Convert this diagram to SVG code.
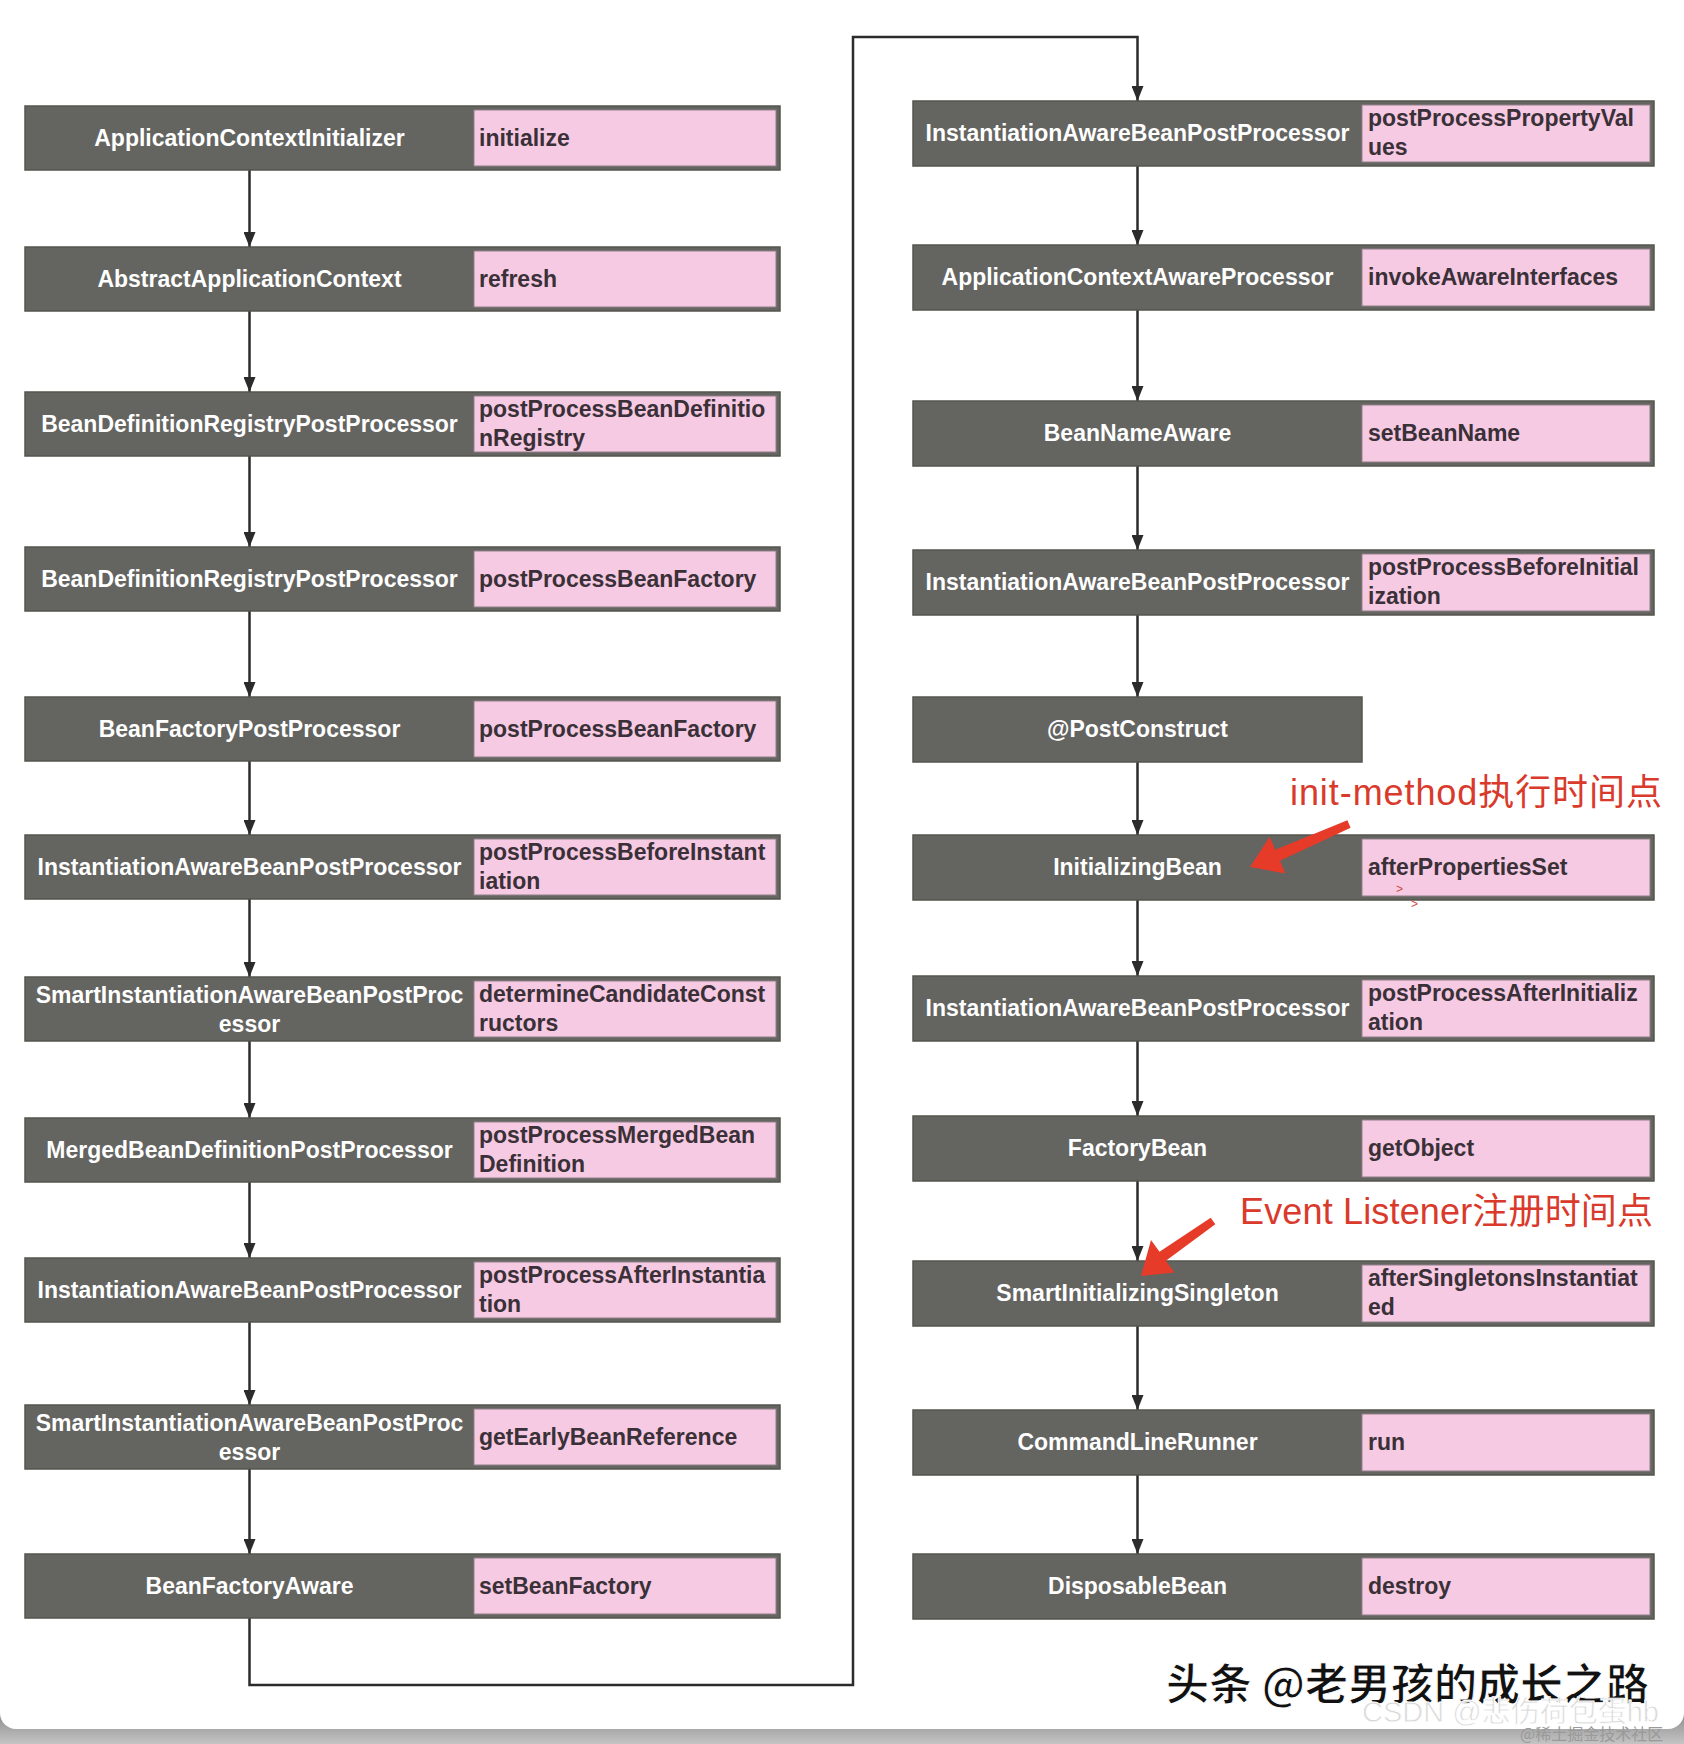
<svg xmlns="http://www.w3.org/2000/svg" width="1684" height="1744" viewBox="0 0 1684 1744">
<defs>
<style>
.box{fill:#646461;stroke:#55554f;stroke-width:1.5}
.pink{fill:#f6cae2;stroke:#8f8088;stroke-width:1}
.lbl{font-family:"Liberation Sans",Arial,sans-serif;font-weight:bold;font-size:23px;fill:#ffffff;text-anchor:middle}
.mth{font-family:"Liberation Sans",Arial,sans-serif;font-weight:bold;font-size:23px;fill:#3a3038}
.conn{stroke:#2b2b2b;stroke-width:2.5;fill:none}
.note{font-family:"Liberation Sans","Noto Sans CJK SC",sans-serif;font-size:36px;fill:#d93a2b}
.red{fill:#e63b28}
</style>
<marker id="ah" markerUnits="userSpaceOnUse" markerWidth="15" markerHeight="12" viewBox="0 0 15 12" refX="15" refY="6" orient="auto">
<path d="M0,0 L15,6 L0,12 z" fill="#2b2b2b"/>
</marker>
<linearGradient id="band" x1="0" y1="0" x2="0" y2="1">
<stop offset="0" stop-color="#8a8a8a"/>
<stop offset="1" stop-color="#c4c4c4"/>
</linearGradient>
</defs>
<rect x="0" y="0" width="1684" height="1744" fill="#ffffff"/>
<rect x="0" y="1712" width="1684" height="32" fill="url(#band)"/>
<rect x="0" y="-30" width="1684" height="1759" rx="16" fill="#ffffff"/>

<g id="connectors">
<path class="conn" d="M249.5,170 V247" marker-end="url(#ah)"/>
<path class="conn" d="M249.5,311 V392" marker-end="url(#ah)"/>
<path class="conn" d="M249.5,456 V547" marker-end="url(#ah)"/>
<path class="conn" d="M249.5,611 V697" marker-end="url(#ah)"/>
<path class="conn" d="M249.5,761 V835" marker-end="url(#ah)"/>
<path class="conn" d="M249.5,899 V977" marker-end="url(#ah)"/>
<path class="conn" d="M249.5,1041 V1118" marker-end="url(#ah)"/>
<path class="conn" d="M249.5,1182 V1258" marker-end="url(#ah)"/>
<path class="conn" d="M249.5,1322 V1405" marker-end="url(#ah)"/>
<path class="conn" d="M249.5,1469 V1554" marker-end="url(#ah)"/>
<path class="conn" d="M249.5,1618 V1685 H853 V37 H1137.5 V101" marker-end="url(#ah)"/>
<path class="conn" d="M1137.5,166 V245" marker-end="url(#ah)"/>
<path class="conn" d="M1137.5,310 V401" marker-end="url(#ah)"/>
<path class="conn" d="M1137.5,466 V550" marker-end="url(#ah)"/>
<path class="conn" d="M1137.5,615 V697" marker-end="url(#ah)"/>
<path class="conn" d="M1137.5,762 V835" marker-end="url(#ah)"/>
<path class="conn" d="M1137.5,900 V976" marker-end="url(#ah)"/>
<path class="conn" d="M1137.5,1041 V1116" marker-end="url(#ah)"/>
<path class="conn" d="M1137.5,1181 V1261" marker-end="url(#ah)"/>
<path class="conn" d="M1137.5,1326 V1410" marker-end="url(#ah)"/>
<path class="conn" d="M1137.5,1475 V1554" marker-end="url(#ah)"/>
</g>

<g id="L1"><rect class="box" x="25" y="106" width="755" height="64"/><rect class="pink" x="474" y="110" width="302" height="56"/>
<text class="lbl" x="249.5" y="146">ApplicationContextInitializer</text><text class="mth" x="479" y="146">initialize</text></g>
<g id="L2"><rect class="box" x="25" y="247" width="755" height="64"/><rect class="pink" x="474" y="251" width="302" height="56"/>
<text class="lbl" x="249.5" y="287">AbstractApplicationContext</text><text class="mth" x="479" y="287">refresh</text></g>
<g id="L3"><rect class="box" x="25" y="392" width="755" height="64"/><rect class="pink" x="474" y="396" width="302" height="56"/>
<text class="lbl" x="249.5" y="432">BeanDefinitionRegistryPostProcessor</text><text class="mth" x="479" y="417">postProcessBeanDefinitio</text><text class="mth" x="479" y="446">nRegistry</text></g>
<g id="L4"><rect class="box" x="25" y="547" width="755" height="64"/><rect class="pink" x="474" y="551" width="302" height="56"/>
<text class="lbl" x="249.5" y="587">BeanDefinitionRegistryPostProcessor</text><text class="mth" x="479" y="587">postProcessBeanFactory</text></g>
<g id="L5"><rect class="box" x="25" y="697" width="755" height="64"/><rect class="pink" x="474" y="701" width="302" height="56"/>
<text class="lbl" x="249.5" y="737">BeanFactoryPostProcessor</text><text class="mth" x="479" y="737">postProcessBeanFactory</text></g>
<g id="L6"><rect class="box" x="25" y="835" width="755" height="64"/><rect class="pink" x="474" y="839" width="302" height="56"/>
<text class="lbl" x="249.5" y="875">InstantiationAwareBeanPostProcessor</text><text class="mth" x="479" y="860">postProcessBeforeInstant</text><text class="mth" x="479" y="889">iation</text></g>
<g id="L7"><rect class="box" x="25" y="977" width="755" height="64"/><rect class="pink" x="474" y="981" width="302" height="56"/>
<text class="lbl" x="249.5" y="1003">SmartInstantiationAwareBeanPostProc</text><text class="lbl" x="249.5" y="1032">essor</text><text class="mth" x="479" y="1002">determineCandidateConst</text><text class="mth" x="479" y="1031">ructors</text></g>
<g id="L8"><rect class="box" x="25" y="1118" width="755" height="64"/><rect class="pink" x="474" y="1122" width="302" height="56"/>
<text class="lbl" x="249.5" y="1158">MergedBeanDefinitionPostProcessor</text><text class="mth" x="479" y="1143">postProcessMergedBean</text><text class="mth" x="479" y="1172">Definition</text></g>
<g id="L9"><rect class="box" x="25" y="1258" width="755" height="64"/><rect class="pink" x="474" y="1262" width="302" height="56"/>
<text class="lbl" x="249.5" y="1298">InstantiationAwareBeanPostProcessor</text><text class="mth" x="479" y="1283">postProcessAfterInstantia</text><text class="mth" x="479" y="1312">tion</text></g>
<g id="L10"><rect class="box" x="25" y="1405" width="755" height="64"/><rect class="pink" x="474" y="1409" width="302" height="56"/>
<text class="lbl" x="249.5" y="1431">SmartInstantiationAwareBeanPostProc</text><text class="lbl" x="249.5" y="1460">essor</text><text class="mth" x="479" y="1445">getEarlyBeanReference</text></g>
<g id="L11"><rect class="box" x="25" y="1554" width="755" height="64"/><rect class="pink" x="474" y="1558" width="302" height="56"/>
<text class="lbl" x="249.5" y="1594">BeanFactoryAware</text><text class="mth" x="479" y="1594">setBeanFactory</text></g>

<g id="R1"><rect class="box" x="913" y="101" width="741" height="65"/><rect class="pink" x="1362" y="105" width="288" height="57"/>
<text class="lbl" x="1137.5" y="141">InstantiationAwareBeanPostProcessor</text><text class="mth" x="1368" y="126">postProcessPropertyVal</text><text class="mth" x="1368" y="155">ues</text></g>
<g id="R2"><rect class="box" x="913" y="245" width="741" height="65"/><rect class="pink" x="1362" y="249" width="288" height="57"/>
<text class="lbl" x="1137.5" y="285">ApplicationContextAwareProcessor</text><text class="mth" x="1368" y="285">invokeAwareInterfaces</text></g>
<g id="R3"><rect class="box" x="913" y="401" width="741" height="65"/><rect class="pink" x="1362" y="405" width="288" height="57"/>
<text class="lbl" x="1137.5" y="441">BeanNameAware</text><text class="mth" x="1368" y="441">setBeanName</text></g>
<g id="R4"><rect class="box" x="913" y="550" width="741" height="65"/><rect class="pink" x="1362" y="554" width="288" height="57"/>
<text class="lbl" x="1137.5" y="590">InstantiationAwareBeanPostProcessor</text><text class="mth" x="1368" y="575">postProcessBeforeInitial</text><text class="mth" x="1368" y="604">ization</text></g>
<g id="R5"><rect class="box" x="913" y="697" width="449" height="65"/>
<text class="lbl" x="1137.5" y="737">@PostConstruct</text></g>
<g id="R6"><rect class="box" x="913" y="835" width="741" height="65"/><rect class="pink" x="1362" y="839" width="288" height="57"/>
<text class="lbl" x="1137.5" y="875">InitializingBean</text><text class="mth" x="1368" y="875">afterPropertiesSet</text></g>
<g id="R7"><rect class="box" x="913" y="976" width="741" height="65"/><rect class="pink" x="1362" y="980" width="288" height="57"/>
<text class="lbl" x="1137.5" y="1016">InstantiationAwareBeanPostProcessor</text><text class="mth" x="1368" y="1001">postProcessAfterInitializ</text><text class="mth" x="1368" y="1030">ation</text></g>
<g id="R8"><rect class="box" x="913" y="1116" width="741" height="65"/><rect class="pink" x="1362" y="1120" width="288" height="57"/>
<text class="lbl" x="1137.5" y="1156">FactoryBean</text><text class="mth" x="1368" y="1156">getObject</text></g>
<g id="R9"><rect class="box" x="913" y="1261" width="741" height="65"/><rect class="pink" x="1362" y="1265" width="288" height="57"/>
<text class="lbl" x="1137.5" y="1301">SmartInitializingSingleton</text><text class="mth" x="1368" y="1286">afterSingletonsInstantiat</text><text class="mth" x="1368" y="1315">ed</text></g>
<g id="R10"><rect class="box" x="913" y="1410" width="741" height="65"/><rect class="pink" x="1362" y="1414" width="288" height="57"/>
<text class="lbl" x="1137.5" y="1450">CommandLineRunner</text><text class="mth" x="1368" y="1450">run</text></g>
<g id="R11"><rect class="box" x="913" y="1554" width="741" height="65"/><rect class="pink" x="1362" y="1558" width="288" height="57"/>
<text class="lbl" x="1137.5" y="1594">DisposableBean</text><text class="mth" x="1368" y="1594">destroy</text></g>

<g id="annotations">
<text class="note" x="1290" y="805" textLength="372" lengthAdjust="spacing">init-method执行时间点</text>
<polygon class="red" points="1250,867 1285.5,873.6 1280,860.7 1350.6,827.7 1347.4,820.3 1275.2,849.7 1269.7,836.8"/>
<text class="note" x="1240" y="1224" textLength="413" lengthAdjust="spacing">Event Listener注册时间点</text>
<polygon class="red" points="1141,1276 1174.4,1272.5 1165.9,1260.8 1215.3,1224.2 1210.7,1217.8 1159.5,1251.8 1151,1240"/>
<text x="1396" y="893" font-family="Liberation Sans,sans-serif" font-size="12" fill="#d04848">&gt;</text>
<text x="1411" y="908" font-family="Liberation Sans,sans-serif" font-size="12" fill="#d04848">&gt;</text>
</g>

<g id="watermark">
<text x="1166" y="1700" font-family="Noto Sans CJK SC,sans-serif" font-size="43" font-weight="bold" fill="#111111" stroke="#ffffff" stroke-width="1">头条 @老男孩的成长之路</text>
<text x="1362" y="1722" font-family="Liberation Sans,Noto Sans CJK SC,sans-serif" font-size="29" fill="#d8d8d8" stroke="#ffffff" stroke-width="0.8">CSDN @悲伤荷包蛋hb</text>
<text x="1520" y="1740" font-family="Noto Sans CJK SC,sans-serif" font-size="16" fill="#9a9a9a">@稀土掘金技术社区</text>
</g>
</svg>
